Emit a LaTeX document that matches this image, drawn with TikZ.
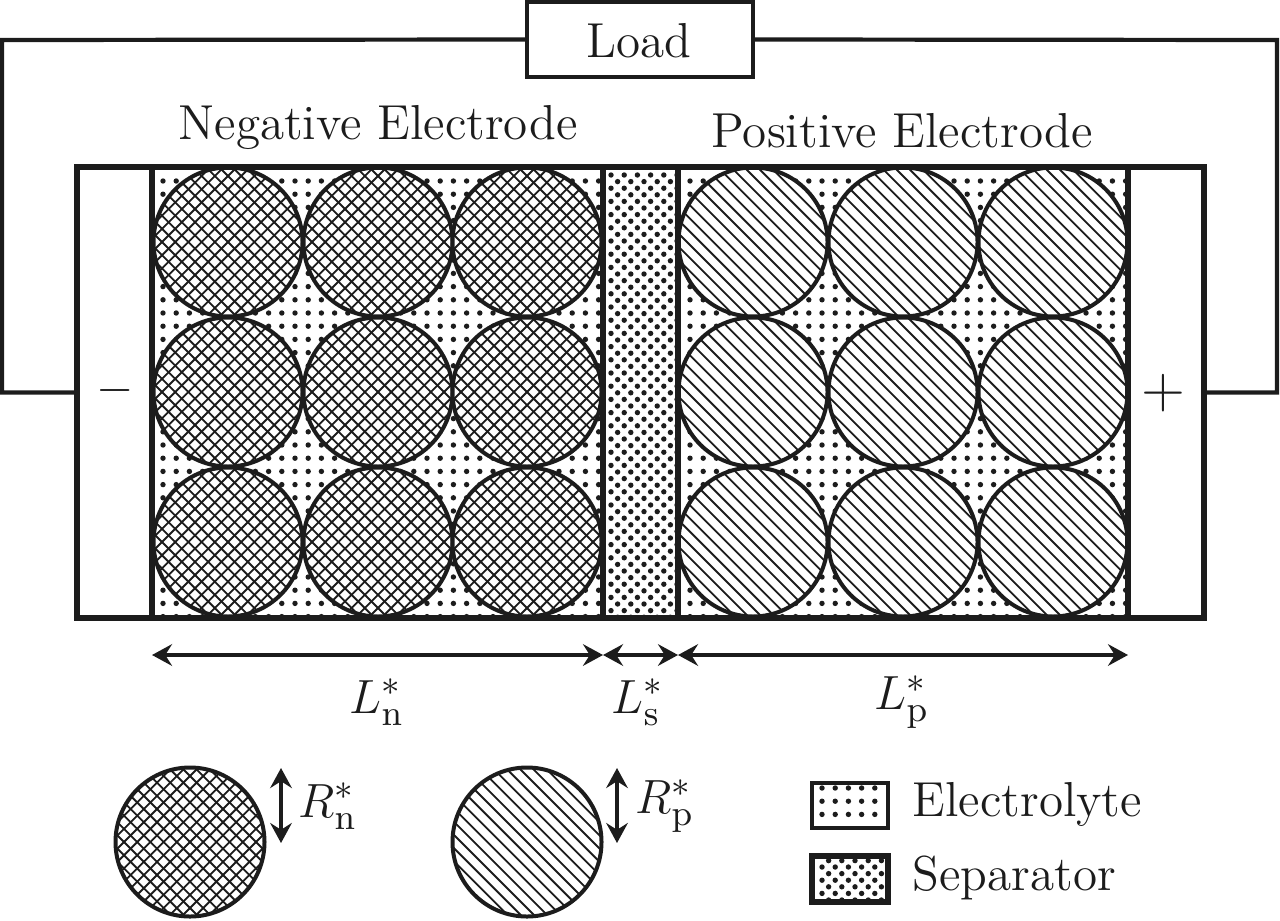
\documentclass[tikz,border=0pt]{standalone}
\usetikzlibrary{arrows.meta}
\tikzset{
  frame/.style={draw=ink,line width=1.35pt,fill=none},
  wire/.style={draw=ink,line width=1.05pt},
  ballnode/.style={circle,draw=ink,line width=1pt,inner sep=0pt,outer sep=0pt,minimum size=37.25pt},
  loadbox/.style={draw=ink,fill=white,line width=1.1pt,inner sep=0pt,minimum width=56.5pt,minimum height=18.75pt},
  txt/.style={inner sep=0pt,text=ink,font=\fontsize{12.28}{14}\selectfont},
  hatchline/.style={draw=ink,line width=0.46pt},
  dim/.style={draw=ink,line width=0.85pt,{Stealth[length=5pt,width=5.4pt,inset=1.7pt]}-{Stealth[length=5pt,width=5.4pt,inset=1.7pt]}},
}
\definecolor{ink}{RGB}{28,28,28}
% #1 name, #2 x, #3 y, #4 pattern macro
\newcommand{\ball}[4]{%
  \begin{scope}
    \clip (#2,#3) circle (74.5);
    \fill[white] (#2,#3) circle (74.5);
    #4{#2}{#3}%
  \end{scope}
  \node[ballnode] (#1) at (#2,#3) {};
}
\newcommand{\hatchA}[2]{%
  \foreach \k in {-12,...,12}{
    \draw[hatchline] ({#1-110+\k*13.2},{#2-110}) -- ({#1+110+\k*13.2},{#2+110});
  }}
\newcommand{\hatchB}[2]{%
  \hatchA{#1}{#2}%
  \foreach \k in {-12,...,12}{
    \draw[hatchline] ({#1+110+\k*13.2},{#2-110}) -- ({#1-110+\k*13.2},{#2+110});
  }}
% dots: x0,y0,nx,ny
\newcommand{\dotgrid}[4]{%
  \foreach \i in {0,...,#3}{\foreach \j in {0,...,#4}{
    \fill[ink] ({#1+\i*13.2},{#2+\j*13.2}) circle (2.7);
  }}}
\newcommand{\sepdots}[4]{%
  \foreach \i in {0,...,#3}{\foreach \j in {0,...,#4}{
    \fill[ink] ({#1+\i*13.2},{#2+\j*13.2}) circle (2.7);
    \fill[ink] ({#1+6.6+\i*13.2},{#2+6.6+\j*13.2}) circle (2.7);
  }}}
\begin{document}
\begin{tikzpicture}[x=0.25pt,y=-0.25pt]
\useasboundingbox (0,0) rectangle (1280,920);

% electrolyte and separator fill
\begin{scope}
  \clip (152,167) rectangle (603,618);
  \dotgrid{163}{181}{33}{33}
\end{scope}
\begin{scope}
  \clip (678,167) rectangle (1128,618);
  \dotgrid{690}{181}{33}{33}
\end{scope}
\begin{scope}
  \clip (603,167) rectangle (678,618);
  \sepdots{611}{175}{5}{34}
\end{scope}

% particles
\ball{na}{228}{242}{\hatchB}
\ball{nb}{378}{242}{\hatchB}
\ball{nc}{527}{242}{\hatchB}
\ball{nd}{228}{392}{\hatchB}
\ball{ne}{378}{392}{\hatchB}
\ball{nf}{527}{392}{\hatchB}
\ball{ng}{228}{542}{\hatchB}
\ball{nh}{378}{542}{\hatchB}
\ball{ni}{527}{542}{\hatchB}
\ball{pa}{753}{242}{\hatchA}
\ball{pb}{903}{242}{\hatchA}
\ball{pc}{1053}{242}{\hatchA}
\ball{pd}{753}{392}{\hatchA}
\ball{pe}{903}{392}{\hatchA}
\ball{pf}{1053}{392}{\hatchA}
\ball{pg}{753}{542}{\hatchA}
\ball{ph}{903}{542}{\hatchA}
\ball{pi}{1053}{542}{\hatchA}

% cell frame
\node[frame,minimum width=281.75pt,minimum height=112.75pt,inner sep=0pt,outer sep=0pt] (cell) at (640.5,392.5) {};
\draw[frame] (152,167) -- (152,618);
\draw[frame] (603,167) -- (603,618);
\draw[frame] (678,167) -- (678,618);
\draw[frame] (1128,167) -- (1128,618);

% load and wires
\node[loadbox] (load) at (640,39.5) {};
\node[txt] (loadt) at (639,41) {Load};
\coordinate (wl) at (2,40);
\coordinate (wr) at (1277,40);
\draw[wire] (load.west) -- (wl) |- (cell.west);
\draw[wire] (load.east) -- (wr) |- (cell.east);

% titles
\node[txt] (neg) at (378,127) {Negative Electrode};
\node[txt] (pos) at (902,131) {Positive Electrode};
\node[txt] (minus) at (115,390) {$-$};
\node[txt,scale=1.2] (plus) at (1163,393) {$+$};

% dimensions
\coordinate (d0) at (152,655);
\coordinate (d1) at (603,655);
\coordinate (d2) at (678,655);
\coordinate (d3) at (1128,655);
\draw[dim] (d0) -- (d1);
\draw[dim] (d1) -- (d2);
\draw[dim] (d2) -- (d3);
\node[txt] (ln) at (377,702) {$L_{\mathrm{n}}^{*}$};
\node[txt] (ls) at (638,702) {$L_{\mathrm{s}}^{*}$};
\node[txt] (lp) at (902,702) {$L_{\mathrm{p}}^{*}$};

% radii
\ball{rn}{190}{842}{\hatchB}
\ball{rp}{527}{842}{\hatchA}
\coordinate (r1a) at (281,768);
\coordinate (r1b) at (281,843);
\coordinate (r2a) at (617,768);
\coordinate (r2b) at (617,843);
\draw[dim] (r1a) -- (r1b);
\draw[dim] (r2a) -- (r2b);
\node[txt,anchor=west] (rnt) at (298,806) {$R_{\mathrm{n}}^{*}$};
\node[txt,anchor=west] (rpt) at (635,806) {$R_{\mathrm{p}}^{*}$};

% legend
\begin{scope}
  \clip (812,783) rectangle (888,828);
  \dotgrid{822}{788}{4}{2}
\end{scope}
\node[frame,line width=1.1pt,minimum width=19pt,minimum height=11.25pt,inner sep=0pt,outer sep=0pt] (lega) at (850,805.5) {};
\begin{scope}
  \clip (812,856) rectangle (888,902);
  \sepdots{822}{867}{4}{2}
  \sepdots{822}{854}{4}{0}
\end{scope}
\node[frame,line width=1.35pt,minimum width=19pt,minimum height=11.5pt,inner sep=0pt,outer sep=0pt] (legb) at (850,879) {};
\node[txt,anchor=west] (legat) at (912,804) {Electrolyte};
\node[txt,anchor=west] (legbt) at (912,878) {Separator};
\end{tikzpicture}
\end{document}
